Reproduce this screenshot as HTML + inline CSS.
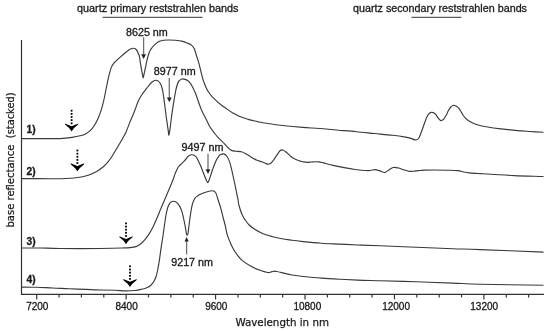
<!DOCTYPE html>
<html><head><meta charset="utf-8"><style>
html,body{margin:0;padding:0;background:#fff;}
svg{display:block;}
text{font-family:"Liberation Sans",sans-serif;fill:#1a1a1a;stroke:#1a1a1a;stroke-width:0.3px;}
.cv path{fill:none;stroke:#3a3a3a;stroke-width:1.15;stroke-linejoin:round;}
.ax line,.ax path{stroke:#333;stroke-width:1.2;fill:none;}
.an line{stroke:#707070;stroke-width:1.3;}
.an .fh{fill:#222;stroke:none;}
.da rect,.da path{fill:#000;}
.ul line{stroke:#333;stroke-width:1;}
</style></head><body>
<svg width="550" height="331" viewBox="0 0 550 331">
<rect width="550" height="331" fill="#fff"/>
<g font-size="11">
<text x="77" y="11.6" textLength="161.5" lengthAdjust="spacingAndGlyphs">quartz primary reststrahlen bands</text>
<text x="353" y="11.6" textLength="174" lengthAdjust="spacingAndGlyphs">quartz secondary reststrahlen bands</text>
</g>
<g class="ul"><line x1="102.6" y1="17.3" x2="202.5" y2="17.3"/><line x1="411.4" y1="17.3" x2="461.4" y2="17.3"/></g>
<g class="ax">
<path d="M21.5,39.9 L21.5,294.4 L544,294.4"/>
<line x1="36.70" y1="294.4" x2="36.70" y2="299.4"/><line x1="59.06" y1="294.4" x2="59.06" y2="297.4"/><line x1="81.42" y1="294.4" x2="81.42" y2="297.4"/><line x1="103.78" y1="294.4" x2="103.78" y2="297.4"/><line x1="126.14" y1="294.4" x2="126.14" y2="299.4"/><line x1="148.50" y1="294.4" x2="148.50" y2="297.4"/><line x1="170.86" y1="294.4" x2="170.86" y2="297.4"/><line x1="193.22" y1="294.4" x2="193.22" y2="297.4"/><line x1="215.58" y1="294.4" x2="215.58" y2="299.4"/><line x1="237.94" y1="294.4" x2="237.94" y2="297.4"/><line x1="260.30" y1="294.4" x2="260.30" y2="297.4"/><line x1="282.66" y1="294.4" x2="282.66" y2="297.4"/><line x1="305.02" y1="294.4" x2="305.02" y2="299.4"/><line x1="327.38" y1="294.4" x2="327.38" y2="297.4"/><line x1="349.74" y1="294.4" x2="349.74" y2="297.4"/><line x1="372.10" y1="294.4" x2="372.10" y2="297.4"/><line x1="394.46" y1="294.4" x2="394.46" y2="299.4"/><line x1="416.82" y1="294.4" x2="416.82" y2="297.4"/><line x1="439.18" y1="294.4" x2="439.18" y2="297.4"/><line x1="461.54" y1="294.4" x2="461.54" y2="297.4"/><line x1="483.90" y1="294.4" x2="483.90" y2="299.4"/><line x1="506.26" y1="294.4" x2="506.26" y2="297.4"/><line x1="528.62" y1="294.4" x2="528.62" y2="297.4"/>
</g>
<g font-size="10"><text x="37.30" y="309.8" text-anchor="middle">7200</text><text x="126.64" y="309.8" text-anchor="middle">8400</text><text x="216.28" y="309.8" text-anchor="middle">9600</text><text x="307.32" y="309.8" text-anchor="middle">10800</text><text x="396.06" y="309.8" text-anchor="middle">12000</text><text x="484.20" y="309.8" text-anchor="middle">13200</text></g>
<text x="235.4" y="325.9" font-size="10.4" style="font-family:'DejaVu Sans',sans-serif;stroke-width:0.25px" textLength="93.6" lengthAdjust="spacingAndGlyphs">Wavelength in nm</text>
<text transform="translate(13.6,227.5) rotate(-90)" font-size="10.2" style="font-family:'DejaVu Sans',sans-serif;stroke-width:0.25px" textLength="83" lengthAdjust="spacingAndGlyphs">base reflectance</text><text transform="translate(13.6,138.2) rotate(-90)" font-size="10" style="font-family:'DejaVu Sans',sans-serif;stroke-width:0.25px" textLength="45.8" lengthAdjust="spacingAndGlyphs">(stacked)</text>
<g font-size="10.2" font-weight="bold" style="fill:#000;stroke:none">
<text x="26.6" y="132.9">1)</text>
<text x="26.6" y="174.8">2)</text>
<text x="26.6" y="245">3)</text>
<text x="26.6" y="282.8">4)</text>
</g>
<g class="cv"><path d="M21.5,138.6 C25.4,138.6 38.6,138.6 45.0,138.6 C51.4,138.6 55.5,138.8 60.0,138.6 C64.5,138.4 68.7,137.9 72.0,137.4 C75.3,136.9 77.8,136.4 80.0,135.8 C82.2,135.2 83.7,134.8 85.4,133.9 C87.1,133.1 88.7,132.1 90.2,130.7 C91.7,129.3 93.1,127.4 94.3,125.5 C95.5,123.6 96.6,121.6 97.6,119.4 C98.6,117.2 99.6,114.8 100.4,112.6 C101.2,110.3 101.8,108.2 102.4,105.9 C103.0,103.6 103.5,101.7 104.2,98.5 C104.9,95.3 105.8,90.4 106.6,86.5 C107.4,82.6 108.3,78.1 109.1,74.9 C109.9,71.7 110.5,69.4 111.3,67.4 C112.1,65.4 112.7,64.6 114.1,62.9 C115.5,61.2 118.0,59.1 119.9,57.4 C121.8,55.7 123.9,53.9 125.7,52.5 C127.5,51.1 129.1,49.8 130.5,49.1 C131.9,48.4 133.0,48.1 134.0,48.3 C135.0,48.4 135.9,49.2 136.6,50.0 C137.3,50.8 137.8,52.3 138.2,53.3 C138.6,54.3 139.0,54.5 139.3,56.0 C139.7,57.5 140.0,60.3 140.3,62.3 C140.6,64.3 140.9,66.0 141.2,67.8 C141.5,69.6 141.9,71.6 142.2,73.3 C142.5,75.0 142.9,77.8 143.2,77.8 C143.6,77.8 143.8,75.0 144.2,73.3 C144.6,71.6 145.0,69.6 145.4,67.8 C145.8,66.0 146.1,64.3 146.5,62.3 C146.9,60.3 147.6,57.7 148.1,56.0 C148.6,54.3 148.9,53.4 149.3,52.3 C149.7,51.2 150.1,50.5 150.6,49.6 C151.1,48.7 151.8,48.0 152.6,47.0 C153.4,46.0 154.5,44.9 155.7,43.9 C156.9,42.9 158.3,41.9 159.6,41.3 C160.9,40.7 162.2,40.5 163.6,40.3 C165.0,40.1 166.2,40.0 168.2,40.0 C170.2,40.0 173.2,40.0 175.5,40.2 C177.8,40.4 179.7,40.6 181.8,41.1 C183.9,41.6 186.5,42.7 188.2,43.4 C189.9,44.1 190.8,44.4 191.8,45.4 C192.9,46.4 193.7,47.6 194.5,49.3 C195.3,51.0 195.8,53.6 196.4,55.5 C197.0,57.4 197.6,58.9 198.2,60.8 C198.8,62.7 199.3,64.7 199.8,66.8 C200.3,68.9 200.8,71.2 201.3,73.2 C201.8,75.2 202.3,77.0 202.8,78.8 C203.3,80.6 203.9,82.2 204.5,83.8 C205.1,85.4 205.8,87.0 206.5,88.4 C207.2,89.8 207.8,90.9 208.7,92.3 C209.6,93.7 210.8,95.2 212.0,96.6 C213.2,98.0 214.6,99.2 216.1,100.6 C217.6,102.0 219.2,103.4 221.0,104.8 C222.8,106.2 224.9,107.6 226.7,108.9 C228.5,110.2 229.9,111.2 232.0,112.4 C234.1,113.6 236.4,115.1 239.1,116.3 C241.8,117.5 245.2,118.5 248.2,119.4 C251.2,120.3 254.3,120.9 257.3,121.6 C260.3,122.2 261.9,122.6 266.4,123.3 C270.9,124.0 278.4,125.1 284.5,125.8 C290.6,126.5 296.8,127.0 302.7,127.4 C308.6,127.9 314.1,128.0 320.0,128.5 C325.9,129.0 332.1,129.7 338.2,130.2 C344.3,130.7 350.3,131.1 356.4,131.7 C362.4,132.2 368.4,132.9 374.5,133.5 C380.6,134.1 387.5,134.7 392.7,135.3 C397.9,135.9 402.5,136.6 405.5,137.1 C408.5,137.6 409.2,137.9 410.9,138.4 C412.6,138.9 414.5,140.1 415.8,140.0 C417.1,139.9 417.8,139.9 418.9,138.0 C420.0,136.1 421.4,131.8 422.6,128.5 C423.9,125.2 425.4,120.4 426.4,118.0 C427.4,115.6 427.9,115.1 428.6,114.2 C429.4,113.3 430.1,112.7 430.9,112.4 C431.6,112.1 432.3,112.3 433.1,112.6 C433.9,112.9 434.6,113.2 435.5,114.2 C436.4,115.2 437.5,117.2 438.4,118.3 C439.3,119.4 439.9,120.4 440.8,120.6 C441.7,120.8 442.7,120.1 443.6,119.3 C444.5,118.5 445.2,116.9 446.0,115.5 C446.8,114.1 447.5,112.2 448.3,110.8 C449.1,109.4 449.9,107.9 450.8,107.0 C451.7,106.1 452.7,105.5 453.6,105.3 C454.5,105.1 455.1,105.5 456.0,106.0 C456.9,106.5 457.8,107.0 458.9,108.3 C460.0,109.6 461.4,112.5 462.4,114.0 C463.4,115.5 463.7,116.3 464.9,117.6 C466.1,118.9 467.9,120.4 469.8,121.6 C471.7,122.8 473.7,123.6 476.4,124.5 C479.1,125.4 482.1,126.1 486.2,126.8 C490.3,127.5 495.7,128.3 500.9,128.9 C506.1,129.5 512.4,130.2 517.3,130.6 C522.1,131.0 525.6,131.2 530.0,131.5 C534.4,131.8 541.2,132.2 543.5,132.3"/><path d="M21.5,178.6 C26.2,178.6 42.6,178.7 50.0,178.7 C57.4,178.7 61.0,178.8 66.0,178.5 C71.0,178.2 76.3,177.8 80.0,177.2 C83.7,176.6 85.5,176.2 88.3,175.2 C91.1,174.2 94.1,172.8 96.6,171.4 C99.1,170.0 101.4,168.4 103.3,166.8 C105.2,165.2 106.7,163.4 108.2,161.6 C109.7,159.8 111.1,157.8 112.4,155.7 C113.8,153.6 114.8,151.8 116.3,149.2 C117.8,146.6 120.0,143.1 121.6,140.2 C123.2,137.3 124.7,134.9 126.1,131.9 C127.5,128.9 128.5,125.5 129.9,122.1 C131.3,118.7 133.0,115.0 134.4,111.5 C135.8,108.0 136.9,104.1 138.1,101.4 C139.3,98.7 140.3,97.2 141.5,95.3 C142.7,93.4 144.3,91.4 145.5,89.8 C146.7,88.2 147.5,87.1 148.6,85.8 C149.7,84.5 150.6,83.1 151.8,82.2 C153.0,81.3 154.8,80.4 155.9,80.3 C157.0,80.2 157.8,80.8 158.6,81.4 C159.4,82.0 160.0,82.8 160.6,84.0 C161.2,85.2 161.7,86.7 162.2,88.5 C162.7,90.3 163.0,92.5 163.4,95.0 C163.8,97.5 164.1,100.2 164.5,103.2 C164.9,106.2 165.3,109.5 165.7,112.7 C166.1,115.9 166.6,119.3 167.0,122.2 C167.4,125.1 167.9,128.2 168.2,130.3 C168.5,132.5 168.6,135.3 168.9,135.1 C169.2,134.9 169.6,131.6 170.0,129.0 C170.4,126.4 170.8,122.9 171.2,119.5 C171.6,116.1 172.2,111.8 172.7,108.6 C173.2,105.4 173.6,102.9 174.0,100.4 C174.4,97.9 174.8,95.8 175.2,93.5 C175.6,91.2 176.1,88.5 176.7,86.5 C177.3,84.5 177.9,82.5 178.8,81.2 C179.7,80.0 180.9,79.3 181.9,79.0 C182.9,78.7 184.1,79.1 185.0,79.4 C185.9,79.7 186.7,80.0 187.6,80.6 C188.5,81.2 189.4,82.1 190.2,83.2 C191.0,84.3 191.8,85.6 192.6,87.0 C193.4,88.4 194.1,90.2 194.8,91.8 C195.5,93.3 196.1,94.8 196.6,96.3 C197.1,97.8 197.2,98.2 198.0,100.5 C198.8,102.8 200.2,107.0 201.6,110.2 C203.0,113.5 205.2,117.3 206.5,120.0 C207.8,122.7 208.3,124.2 209.7,126.5 C211.1,128.8 213.1,131.4 214.7,133.5 C216.3,135.6 217.9,137.2 219.5,138.9 C221.1,140.6 222.8,142.1 224.3,143.7 C225.8,145.3 227.3,147.2 228.6,148.3 C229.9,149.5 230.7,150.1 232.0,150.6 C233.3,151.1 234.6,151.0 236.2,151.2 C237.8,151.4 239.8,151.3 241.5,151.8 C243.2,152.3 245.1,153.5 246.7,154.3 C248.3,155.2 249.3,156.0 250.9,156.9 C252.5,157.8 254.6,159.2 256.4,160.0 C258.2,160.8 260.3,161.2 261.8,161.8 C263.3,162.4 264.5,162.9 265.5,163.3 C266.5,163.7 267.2,164.1 268.0,164.2 C268.8,164.2 269.6,164.2 270.5,163.6 C271.4,163.0 272.3,161.7 273.2,160.5 C274.1,159.3 274.9,158.0 276.0,156.4 C277.1,154.8 278.7,152.1 279.8,151.0 C280.9,149.9 281.6,149.7 282.8,150.0 C284.0,150.3 285.6,151.8 286.9,152.8 C288.2,153.8 289.4,155.2 290.5,156.2 C291.6,157.1 292.7,157.9 293.8,158.5 C294.9,159.1 296.0,159.6 297.1,160.0 C298.2,160.4 299.3,160.8 300.4,161.1 C301.5,161.4 302.5,161.7 303.6,161.9 C304.7,162.1 305.8,162.3 306.9,162.3 C308.0,162.3 309.1,162.2 310.2,162.1 C311.3,162.0 312.0,161.8 313.5,161.8 C315.0,161.8 317.4,161.7 319.0,161.9 C320.6,162.1 321.0,162.3 323.4,162.9 C325.8,163.5 329.8,164.6 333.2,165.4 C336.6,166.2 340.5,166.9 344.1,167.6 C347.7,168.3 351.5,169.0 355.0,169.5 C358.5,170.0 362.7,170.3 365.3,170.5 C367.9,170.7 368.8,170.7 370.4,170.5 C372.0,170.3 373.3,169.6 374.8,169.6 C376.3,169.6 377.7,170.1 379.3,170.6 C380.9,171.1 382.9,172.5 384.4,172.5 C385.9,172.5 386.7,171.2 388.2,170.4 C389.7,169.6 391.6,167.9 393.3,167.5 C395.0,167.1 396.7,167.6 398.4,168.0 C400.1,168.4 401.8,169.2 403.5,169.7 C405.2,170.2 406.8,170.9 408.5,171.2 C410.2,171.5 411.9,171.4 413.6,171.3 C415.3,171.2 416.8,170.8 418.5,170.6 C420.2,170.4 421.4,170.2 424.0,170.1 C426.6,170.0 430.5,170.0 434.2,170.0 C437.9,170.0 442.1,170.1 446.0,170.2 C449.9,170.3 455.0,170.3 457.8,170.6 C460.6,170.9 461.0,171.4 463.0,171.8 C465.0,172.2 466.8,172.6 469.6,172.9 C472.4,173.2 476.4,173.4 480.0,173.6 C483.6,173.8 485.1,173.9 490.9,174.2 C496.7,174.5 505.8,175.2 514.6,175.6 C523.4,176.0 538.7,176.3 543.5,176.5"/><path d="M21.5,248.0 C24.6,248.0 33.6,247.9 40.0,248.0 C46.4,248.1 50.0,248.4 60.0,248.5 C70.0,248.6 89.7,248.6 100.0,248.5 C110.3,248.4 117.1,248.2 122.1,248.0 C127.1,247.8 127.7,247.8 130.0,247.6 C132.3,247.4 134.2,247.2 136.0,246.6 C137.8,246.0 139.3,245.0 140.8,243.8 C142.3,242.6 143.5,241.2 144.9,239.6 C146.3,238.0 147.7,236.0 149.0,234.1 C150.3,232.2 151.3,230.4 152.5,228.1 C153.7,225.8 154.9,222.7 155.9,220.4 C156.9,218.1 157.7,216.2 158.5,214.4 C159.3,212.6 159.6,211.6 160.5,209.4 C161.4,207.2 162.9,203.8 164.1,201.0 C165.3,198.2 166.5,195.3 167.7,192.5 C168.9,189.7 170.3,186.4 171.3,184.0 C172.3,181.6 173.0,179.9 173.7,178.0 C174.4,176.1 174.8,174.2 175.6,172.4 C176.4,170.6 177.3,168.5 178.3,167.0 C179.3,165.5 180.7,164.6 181.7,163.6 C182.7,162.6 183.5,161.9 184.4,160.9 C185.3,159.9 186.3,158.4 187.1,157.5 C187.9,156.6 188.6,156.0 189.3,155.6 C190.0,155.2 190.6,154.9 191.4,154.8 C192.2,154.7 193.0,154.8 193.9,155.2 C194.8,155.6 195.7,156.1 196.6,157.5 C197.5,158.9 198.7,161.7 199.5,163.4 C200.3,165.2 200.9,166.4 201.5,168.0 C202.1,169.6 202.7,171.2 203.3,172.7 C203.9,174.2 204.5,175.8 205.0,177.0 C205.5,178.2 205.8,179.3 206.3,180.2 C206.8,181.1 207.4,182.6 207.8,182.6 C208.2,182.6 208.6,181.2 209.0,180.3 C209.4,179.4 209.7,178.5 210.1,177.2 C210.5,175.9 211.1,174.0 211.6,172.5 C212.1,171.0 212.5,169.6 213.1,168.1 C213.7,166.6 214.4,164.8 215.0,163.3 C215.6,161.8 216.3,160.3 216.9,159.1 C217.5,157.9 218.2,157.1 218.8,156.3 C219.4,155.6 219.9,155.0 220.7,154.6 C221.5,154.2 222.5,153.7 223.5,153.9 C224.5,154.1 225.7,154.6 226.7,156.0 C227.7,157.4 228.8,159.6 229.7,162.1 C230.6,164.6 231.2,167.8 232.0,171.1 C232.8,174.4 233.6,178.2 234.3,181.7 C235.1,185.2 235.9,189.3 236.5,192.3 C237.1,195.3 237.6,197.3 238.0,199.5 C238.4,201.7 238.3,203.0 239.0,205.5 C239.7,208.0 240.9,212.0 242.0,214.5 C243.1,217.0 244.3,218.8 245.5,220.5 C246.7,222.2 247.8,223.6 249.2,225.0 C250.6,226.4 252.2,227.6 254.0,228.8 C255.8,230.0 258.1,231.3 260.1,232.3 C262.1,233.3 263.9,234.1 266.0,234.8 C268.1,235.6 270.1,236.1 272.8,236.8 C275.5,237.5 278.8,238.2 282.0,238.8 C285.2,239.4 288.5,239.8 292.0,240.3 C295.5,240.8 298.3,241.1 303.2,241.6 C308.1,242.1 315.3,242.8 321.4,243.2 C327.4,243.6 333.4,243.8 339.5,244.1 C345.6,244.4 350.9,244.7 357.7,245.0 C364.4,245.3 370.2,245.4 380.0,245.8 C389.8,246.2 404.3,246.8 416.4,247.3 C428.5,247.8 442.1,248.3 452.7,248.7 C463.3,249.1 464.9,249.0 480.0,249.6 C495.1,250.2 532.9,251.7 543.5,252.1"/><path d="M21.5,287.1 C24.0,287.1 31.2,287.2 36.4,287.3 C41.6,287.4 47.2,287.8 52.7,288.0 C58.2,288.2 63.6,288.6 69.1,288.8 C74.6,289.0 80.0,289.2 85.5,289.4 C91.0,289.6 96.9,289.9 101.8,290.0 C106.7,290.1 111.1,290.2 115.1,290.3 C119.1,290.4 122.4,290.8 125.7,290.8 C129.0,290.8 132.3,290.7 134.7,290.5 C137.1,290.3 138.4,289.9 140.0,289.6 C141.6,289.3 142.8,289.1 144.0,288.8 C145.2,288.5 146.2,288.1 147.3,287.6 C148.4,287.1 149.4,286.6 150.3,285.8 C151.2,285.1 152.0,284.0 152.7,283.1 C153.4,282.2 153.9,281.3 154.5,280.2 C155.1,279.1 155.4,278.5 156.0,276.7 C156.6,274.9 157.2,272.5 157.8,269.5 C158.4,266.5 159.0,262.5 159.6,258.6 C160.2,254.7 160.8,249.9 161.4,245.9 C162.0,241.9 162.6,238.6 163.2,234.5 C163.8,230.4 164.4,225.3 165.0,221.5 C165.6,217.7 166.0,214.4 166.6,211.8 C167.2,209.2 167.7,207.4 168.4,205.8 C169.1,204.2 169.8,203.2 170.6,202.4 C171.4,201.6 172.3,201.2 173.3,201.2 C174.3,201.2 175.5,201.5 176.6,202.4 C177.7,203.3 178.9,204.8 179.9,206.6 C180.9,208.4 181.6,210.1 182.4,213.2 C183.2,216.2 184.2,221.5 184.9,224.9 C185.6,228.3 186.1,232.1 186.5,233.8 C186.9,235.5 186.9,235.2 187.2,235.2 C187.4,235.1 187.7,235.1 188.0,233.5 C188.3,231.9 188.6,228.9 189.0,225.5 C189.4,222.1 190.1,216.8 190.7,213.2 C191.3,209.6 191.7,206.6 192.4,204.1 C193.1,201.6 194.1,199.7 194.9,198.3 C195.8,197.0 196.7,196.6 197.5,196.0 C198.3,195.4 198.3,195.3 199.8,194.6 C201.3,193.9 204.4,192.6 206.5,192.0 C208.6,191.4 210.8,190.7 212.3,190.8 C213.8,190.9 214.7,191.1 215.6,192.5 C216.5,193.9 217.1,196.8 218.0,199.5 C218.9,202.2 220.1,205.9 221.0,209.0 C221.9,212.1 222.5,215.1 223.3,218.1 C224.1,221.1 225.0,224.4 225.6,227.1 C226.2,229.8 226.3,231.8 227.1,234.3 C227.8,236.8 229.0,239.6 230.1,242.2 C231.2,244.8 232.7,247.8 233.9,250.0 C235.1,252.2 236.2,253.5 237.5,255.2 C238.8,256.9 239.8,258.5 242.0,260.4 C244.2,262.2 248.0,264.6 251.0,266.3 C254.0,268.0 257.7,269.4 260.1,270.3 C262.5,271.2 264.1,271.5 265.5,271.9 C266.9,272.3 267.9,272.6 268.8,272.6 C269.7,272.6 270.2,272.2 271.0,272.0 C271.8,271.8 272.6,271.3 273.5,271.2 C274.4,271.1 275.1,271.3 276.5,271.5 C277.9,271.7 279.2,272.0 281.8,272.6 C284.4,273.2 288.4,274.4 292.0,275.0 C295.6,275.6 298.3,276.0 303.2,276.5 C308.1,277.0 315.3,277.7 321.4,278.1 C327.4,278.6 333.4,278.9 339.5,279.2 C345.6,279.5 350.9,279.8 357.7,280.1 C364.4,280.4 370.2,280.5 380.0,280.8 C389.8,281.1 404.3,281.4 416.4,281.8 C428.5,282.2 442.1,282.7 452.7,283.1 C463.3,283.5 464.9,283.8 480.0,284.2 C495.1,284.6 532.9,285.1 543.5,285.3"/></g>
<g class="da"><rect x="70.7" y="122.4" width="1.8" height="1.8"/><rect x="70.7" y="119.2" width="1.8" height="1.8"/><rect x="70.7" y="116.1" width="1.8" height="1.8"/><rect x="70.7" y="113.0" width="1.8" height="1.8"/><rect x="70.7" y="109.8" width="1.8" height="1.8"/><path d="M71.60,131.50 Q69.40,127.70 65.10,124.60 L64.80,123.50 L71.60,126.20 L78.40,123.50 L78.10,124.60 Q73.80,127.70 71.60,131.50 Z"/><rect x="76.5" y="162.2" width="1.8" height="1.8"/><rect x="76.5" y="159.0" width="1.8" height="1.8"/><rect x="76.5" y="155.9" width="1.8" height="1.8"/><rect x="76.5" y="152.8" width="1.8" height="1.8"/><rect x="76.5" y="149.6" width="1.8" height="1.8"/><path d="M77.40,171.30 Q75.20,167.50 70.90,164.40 L70.60,163.30 L77.40,166.00 L84.20,163.30 L83.90,164.40 Q79.60,167.50 77.40,171.30 Z"/><rect x="125.1" y="235.1" width="1.8" height="1.8"/><rect x="125.1" y="231.9" width="1.8" height="1.8"/><rect x="125.1" y="228.8" width="1.8" height="1.8"/><rect x="125.1" y="225.7" width="1.8" height="1.8"/><rect x="125.1" y="222.5" width="1.8" height="1.8"/><path d="M126.00,244.20 Q123.80,240.40 119.50,237.30 L119.20,236.20 L126.00,238.90 L132.80,236.20 L132.50,237.30 Q128.20,240.40 126.00,244.20 Z"/><rect x="129.1" y="278.0" width="1.8" height="1.8"/><rect x="129.1" y="274.9" width="1.8" height="1.8"/><rect x="129.1" y="271.7" width="1.8" height="1.8"/><rect x="129.1" y="268.6" width="1.8" height="1.8"/><rect x="129.1" y="265.4" width="1.8" height="1.8"/><path d="M130.00,287.10 Q127.80,283.30 123.50,280.20 L123.20,279.10 L130.00,281.80 L136.80,279.10 L136.50,280.20 Q132.20,283.30 130.00,287.10 Z"/></g>
<g class="an"><line x1="143.6" y1="37.3" x2="143.6" y2="54.7"/><path class="fh" d="M141.2,54.2 L146.0,54.2 L143.6,59.0 Z"/><line x1="169.3" y1="78.1" x2="169.3" y2="98.0"/><path class="fh" d="M166.9,97.5 L171.7,97.5 L169.3,102.3 Z"/><line x1="208.0" y1="153.7" x2="208.0" y2="169.7"/><path class="fh" d="M205.6,169.2 L210.4,169.2 L208.0,174.0 Z"/><line x1="186.6" y1="241.1" x2="186.6" y2="254.5"/><path class="fh" d="M184.5,241.6 L188.7,241.6 L186.6,237.1 Z"/></g>
<g font-size="10.3">
<text x="126" y="35.8" textLength="41.8" lengthAdjust="spacingAndGlyphs">8625 nm</text>
<text x="153.8" y="74.6" textLength="41.8" lengthAdjust="spacingAndGlyphs">8977 nm</text>
<text x="181.4" y="151.4" textLength="42" lengthAdjust="spacingAndGlyphs">9497 nm</text>
<text x="171.2" y="266.4" textLength="41.8" lengthAdjust="spacingAndGlyphs">9217 nm</text>
</g>
</svg>
</body></html>
